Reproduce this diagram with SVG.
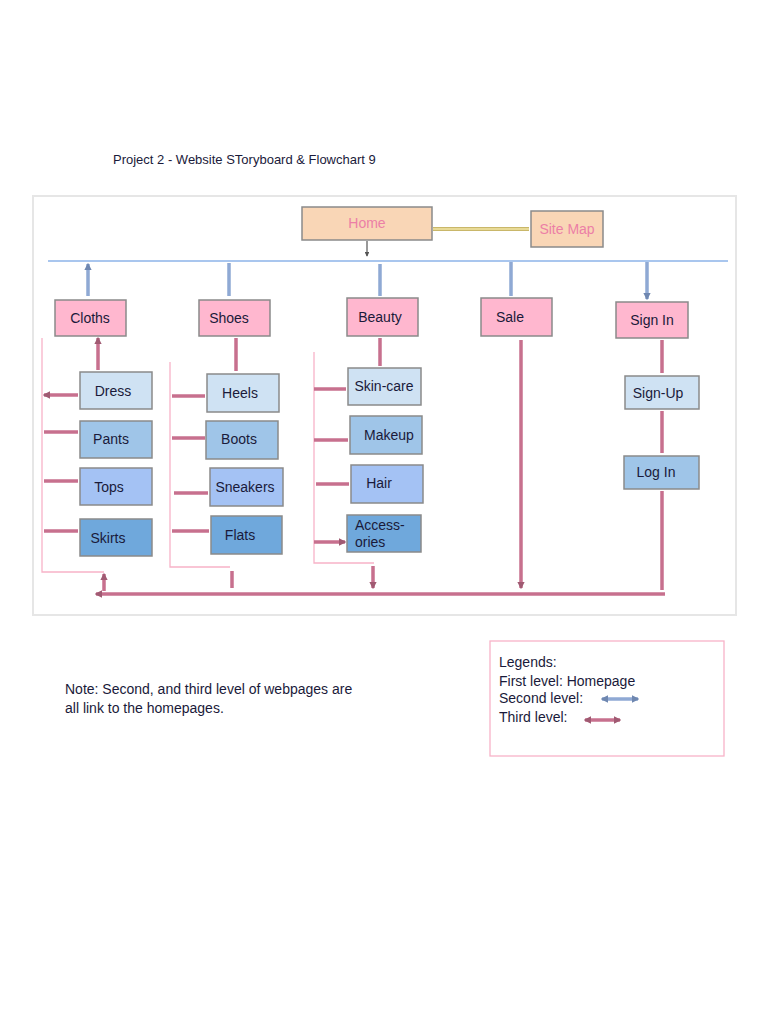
<svg xmlns="http://www.w3.org/2000/svg" width="768" height="1024" viewBox="0 0 768 1024">
<style>
text{font-family:"Liberation Sans",Arial,sans-serif;font-size:14px;fill:#1a1a3a}
.n rect{stroke:#8a8a8a;stroke-width:1.5}
.l2 rect{fill:#ffb7cf}
.c1{fill:#cfe2f3}.c2{fill:#9fc5e8}.c3{fill:#a4c2f4}.c4{fill:#6fa8dc}
.p{stroke:#c7708e;stroke-width:3.5;fill:none;marker-start:url(#pa);marker-end:url(#pa)}
.b{stroke:#8fa9d4;stroke-width:3.5;fill:none;marker-start:url(#ba);marker-end:url(#ba)}
.t{stroke:#f7b3c8;stroke-width:1.3;fill:none}
</style>
<defs>
<marker id="pa" viewBox="0 0 6 6" refX="5" refY="3" markerWidth="2.2" markerHeight="2.2" orient="auto-start-reverse"><path d="M0,0L6,3L0,6z" fill="#a05a72"/></marker>
<marker id="ba" viewBox="0 0 6 6" refX="5" refY="3" markerWidth="2.2" markerHeight="2.2" orient="auto-start-reverse"><path d="M0,0L6,3L0,6z" fill="#6f87b0"/></marker>
<marker id="ga" viewBox="0 0 6 6" refX="5" refY="3" markerWidth="4" markerHeight="4" orient="auto"><path d="M0,0L6,3L0,6z" fill="#555"/></marker>
</defs>
<rect width="768" height="1024" fill="#fff"/>
<text x="113" y="164" style="font-size:13px">Project 2 - Website SToryboard &amp; Flowchart 9</text>
<rect x="33" y="196" width="703" height="419" fill="#fff" stroke="#e6e6e6" stroke-width="2"/>
<g id="connectors">
<line x1="48" y1="261" x2="728" y2="261" stroke="#a9c6ee" stroke-width="2"/>
<line x1="433" y1="229" x2="529" y2="229" stroke="#c9b76a" stroke-width="4"/>
<line x1="433" y1="229" x2="529" y2="229" stroke="#f2e6a6" stroke-width="1.5"/>
<line x1="367" y1="241" x2="367" y2="256" stroke="#555" stroke-width="1.2" marker-end="url(#ga)"/>
<path class="b" d="M88 264V296M229 263V296M380 264V296M511 262V296M647 262V299"/>
<path class="p" d="M98 338V370M236 338V371M380 338V366M662 340V373M662 411V453M662 491V590M521 340V588"/>
<path class="t" d="M42 338V572H104M170 362V567H230M314 352V563H374"/>
<path class="p" d="M44 395H78M44 432H78M44 481H78M44 531H78M172 396H205M172 438H205M174 493H208M172 531H209M314 389H346M314 440H348M316 484H349M314 542H345"/>
<path class="p" d="M104 574V591M232 571V588M373 566V588"/>
<line x1="96" y1="594" x2="665" y2="594" stroke="#c7708e" stroke-width="3.5" marker-start="url(#pa)"/>
</g>
<g id="home" class="n"><rect x="302" y="207" width="130" height="33" fill="#f9d6b6" stroke="#555"/><text x="367" y="228" text-anchor="middle" style="fill:#ec7fa6">Home</text></g>
<g id="sitemap" class="n"><rect x="531" y="211" width="72" height="36" fill="#f9d6b6"/><text x="567" y="234" text-anchor="middle" style="fill:#ec7fa6">Site Map</text></g>
<g id="cloths" class="n l2"><rect x="55" y="300" width="71" height="36"/><text x="90" y="323" text-anchor="middle">Cloths</text></g>
<g id="shoes" class="n l2"><rect x="199" y="300" width="71" height="36"/><text x="229" y="323" text-anchor="middle">Shoes</text></g>
<g id="beauty" class="n l2"><rect x="347" y="298" width="71" height="38"/><text x="380" y="322" text-anchor="middle">Beauty</text></g>
<g id="sale" class="n l2"><rect x="481" y="298" width="71" height="38"/><text x="510" y="322" text-anchor="middle">Sale</text></g>
<g id="signin" class="n l2"><rect x="616" y="302" width="72" height="36"/><text x="652" y="325" text-anchor="middle">Sign In</text></g>
<g id="dress" class="n"><rect class="c1" x="80" y="372" width="72" height="37"/><text x="113" y="396" text-anchor="middle">Dress</text></g>
<g id="pants" class="n"><rect class="c2" x="80" y="421" width="72" height="37"/><text x="111" y="444" text-anchor="middle">Pants</text></g>
<g id="tops" class="n"><rect class="c3" x="80" y="468" width="72" height="37"/><text x="109" y="492" text-anchor="middle">Tops</text></g>
<g id="skirts" class="n"><rect class="c4" x="80" y="519" width="72" height="37"/><text x="108" y="543" text-anchor="middle">Skirts</text></g>
<g id="heels" class="n"><rect class="c1" x="207" y="374" width="72" height="38"/><text x="240" y="398" text-anchor="middle">Heels</text></g>
<g id="boots" class="n"><rect class="c2" x="206" y="421" width="72" height="38"/><text x="239" y="444" text-anchor="middle">Boots</text></g>
<g id="sneakers" class="n"><rect class="c3" x="210" y="468" width="73" height="38"/><text x="245" y="492" text-anchor="middle">Sneakers</text></g>
<g id="flats" class="n"><rect class="c4" x="211" y="516" width="71" height="38"/><text x="240" y="540" text-anchor="middle">Flats</text></g>
<g id="skincare" class="n"><rect class="c1" x="348" y="368" width="73" height="37"/><text x="384" y="391" text-anchor="middle">Skin-care</text></g>
<g id="makeup" class="n"><rect class="c2" x="350" y="416" width="72" height="38"/><text x="389" y="440" text-anchor="middle">Makeup</text></g>
<g id="hair" class="n"><rect class="c3" x="351" y="465" width="72" height="38"/><text x="379" y="488" text-anchor="middle">Hair</text></g>
<g id="accessories" class="n"><rect class="c4" x="347" y="515" width="74" height="37"/><text x="355" y="530">Access-</text><text x="355" y="547">ories</text></g>
<g id="signup" class="n"><rect class="c1" x="625" y="376" width="74" height="33"/><text x="658" y="398" text-anchor="middle">Sign-Up</text></g>
<g id="login" class="n"><rect class="c2" x="624" y="456" width="75" height="33"/><text x="656" y="477" text-anchor="middle">Log In</text></g>
<text x="65" y="694">Note: Second, and third level of webpages are</text>
<text x="65" y="713">all link to the homepages.</text>
<g id="legend">
<rect x="490" y="641" width="234" height="115" fill="#fff" stroke="#f7b3c8" stroke-width="1.3"/>
<text x="499" y="667">Legends:</text>
<text x="499" y="686">First level: Homepage</text>
<text x="499" y="703">Second level:</text>
<text x="499" y="722">Third level:</text>
<line x1="602" y1="699" x2="638" y2="699" class="b"/>
<line x1="585" y1="720" x2="620" y2="720" class="p"/>
</g>
</svg>
